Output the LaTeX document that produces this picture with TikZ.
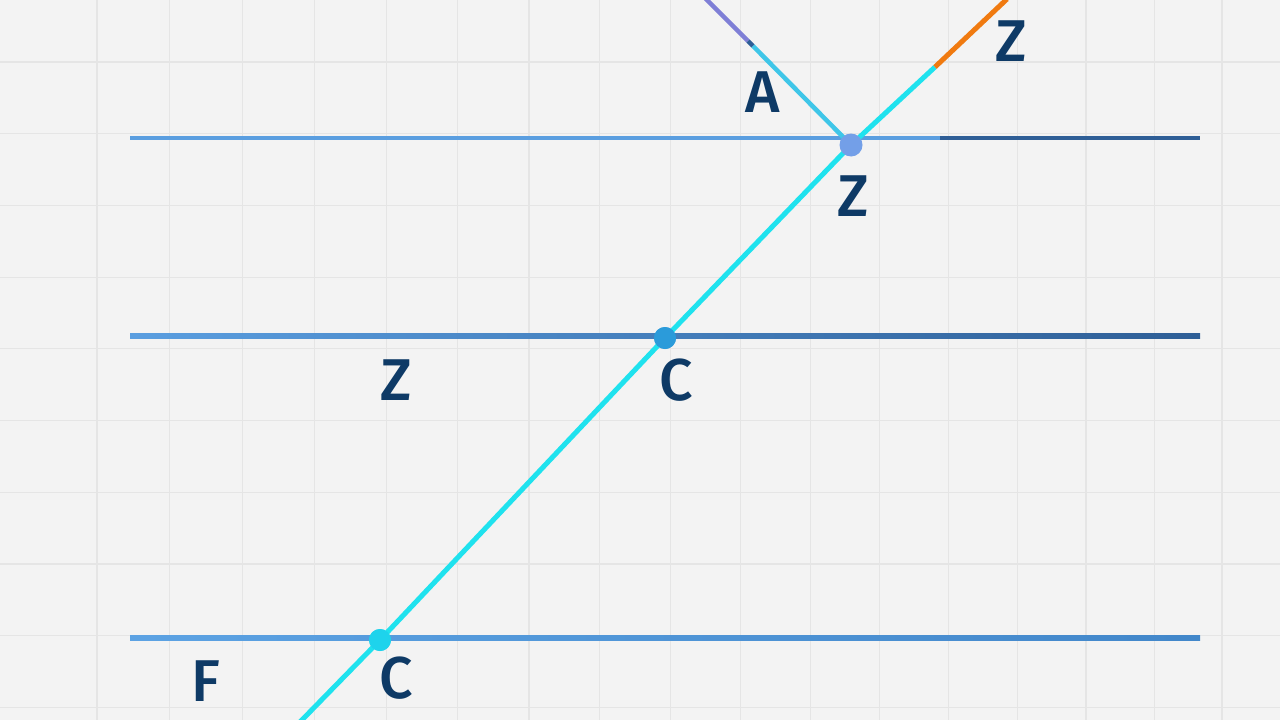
\documentclass[tikz,border=0pt]{standalone}
\usepackage{fontspec}
\IfFontExistsTF{Fira Sans Medium}{\setmainfont{Fira Sans Medium}}{\setmainfont{Fira Sans}}
\usetikzlibrary{calc}
\definecolor{bg}{HTML}{F3F3F3}
\definecolor{gridc}{HTML}{E5E5E5}
\definecolor{lblue}{HTML}{5A9EE0}
\definecolor{dblue}{HTML}{2E5E96}
\definecolor{midblue}{HTML}{3F84CE}
\definecolor{mblue}{HTML}{4A98E0}
\definecolor{cyanl}{HTML}{1FE2EE}
\definecolor{cyanm}{HTML}{3FC6E8}
\definecolor{purp}{HTML}{7F7FD6}
\definecolor{orng}{HTML}{F07A10}
\definecolor{navy}{HTML}{0E3A66}
\definecolor{dotA}{HTML}{739FE8}
\definecolor{dotB}{HTML}{2B9BDA}
\definecolor{dotC}{HTML}{1ED3EC}
\tikzset{
  gridline/.style={draw=gridc, line width=1.2pt},
  lbl/.style={text=navy, inner sep=0pt, font=\fontsize{59}{60}\selectfont},
  dotnode/.style={circle, inner sep=0pt, minimum size=22pt},
  trans/.style={draw=cyanl, line width=5pt},
}
\begin{document}
\begin{tikzpicture}[x=1pt,y=-1pt]
\useasboundingbox (0,0) rectangle (1280,720);
\fill[bg] (0,0) rectangle (1280,720);
% grid
\foreach \k in {0,...,16} {
  \pgfmathsetmacro{\gx}{97+73*\k-0.168*\k*\k}
  \draw[gridline] (\gx,0) -- (\gx,720);
}
\foreach \k in {0,...,9} {
  \pgfmathsetmacro{\gy}{62+71.7*\k}
  \draw[gridline] (0,\gy) -- (1280,\gy);
}
% coordinates
\coordinate (L1a) at (130,138); \coordinate (L1m) at (940,138); \coordinate (L1b) at (1200,138);
\coordinate (L2a) at (130,336); \coordinate (L2b) at (1200,336);
\coordinate (L3a) at (130,638); \coordinate (L3b) at (1200,638);
\coordinate (Tbot) at (300,722);
\coordinate (Tmid) at (935,67);
\coordinate (Ttop) at (1007,-1);
\coordinate (Ptop) at (705,-2);
\coordinate (Pmid) at (748,41);
\coordinate (Pmid2) at (753,46);
% horizontal lines
\draw[draw=lblue, line width=4.2pt] (L1a) -- (L1m);
\draw[draw=dblue, line width=4.2pt] (L1m) -- (L1b);
\shade[left color=lblue, middle color=midblue, right color=dblue] ($(L2a)+(0,-2.1)$) rectangle ($(L2b)+(0,2.1)$);
\shade[left color=mblue!90!white, middle color=mblue, right color=mblue!70!dblue] ($(L3a)+(0,-2.1)$) rectangle ($(L3b)+(0,2.1)$);
% dots (nodes)
\node[dotnode, fill=dotA] (D1) at (851,145) {};
\node[dotnode, fill=dotB] (D2) at (665,338) {};
\node[dotnode, fill=dotC] (D3) at (380,640) {};
% transversal
\draw[trans] (Tbot) -- (D3.center) -- (D2.center) -- (D1.center);
\draw[trans] (D1.center) -- (Tmid);
\draw[draw=orng, line width=5pt] (Tmid) -- (Ttop);
% upper-left ray
\draw[draw=purp, line width=4.5pt] (Ptop) -- (Pmid);
\draw[draw=dblue, line width=4.5pt] (Pmid) -- (Pmid2);
\draw[draw=cyanm, line width=4.5pt] (Pmid2) -- (D1.center);
% redraw dots on top
\fill[dotA] (D1) circle (11.5);
\fill[dotB] (D2) circle (11);
\fill[dotC] (D3) circle (11);
% labels
\node[lbl] (zA) at (1011,41) {Z};
\node[lbl] (aA) at (763,92) {A};
\node[lbl] (zB) at (853,196) {Z};
\node[lbl] (zC) at (396,380) {Z};
\node[lbl] (cA) at (676,380) {C};
\node[lbl] (cB) at (396,678) {C};
\node[lbl] (fA) at (206,681) {F};
\end{tikzpicture}
\end{document}
